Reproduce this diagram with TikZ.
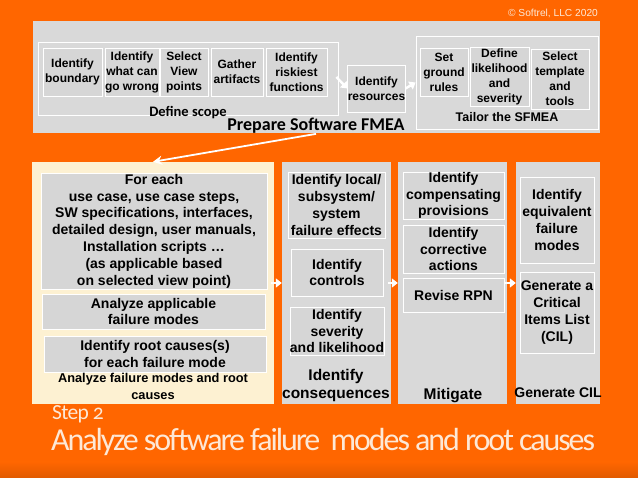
\documentclass[tikz,border=0pt]{standalone}
\usepackage{fontspec}
\setmainfont{Liberation Sans}
\newfontfamily\calfont{Carlito}
\newfontfamily\stepfont[Numbers=OldStyle,LetterSpace=-3.5]{Carlito}
\newfontfamily\titlefont[LetterSpace=-6.5]{Carlito}
\usetikzlibrary{arrows.meta}
\definecolor{bgorange}{RGB}{255,102,0}
\definecolor{panelgray}{RGB}{217,217,217}
\definecolor{boxgray}{RGB}{214,214,214}
\definecolor{creamy}{RGB}{253,241,210}
\definecolor{titlecream}{RGB}{253,232,214}
\newcommand{\fs}[2]{\bfseries\fontsize{#1}{#2}\selectfont}
\tikzset{
  pnl/.style={fill=panelgray, draw=none, inner sep=0pt},
  grp/.style={draw=white, line width=0.9pt, inner sep=0pt},
  bx/.style={draw=white, line width=0.7pt, fill=boxgray, align=center, inner sep=0pt, font=\fs{12}{15}},
  bxl/.style={bx, font=\fs{14}{16.8}},
  lbl/.style={align=center, inner sep=0pt},
  chev/.style={white, line width=2.4pt, -{Triangle[length=6pt,width=9pt]}},
  bigarr/.style={white, line width=1.8pt, -{Stealth[length=9pt,width=9pt]}}
}

\begin{document}
\begin{tikzpicture}[x=1pt,y=-1pt]
\fill[bgorange] (0,0) rectangle (638,478);
\shade[top color=bgorange, bottom color=bgorange!88!black] (0,462) rectangle (638,478);
\useasboundingbox (0,0) rectangle (638,478);
\node[lbl, text=titlecream, font=\fontsize{10.2}{12}\selectfont] (copy) at (553,13) {\textcopyright\ Softrel, LLC 2020};

% prepare software FMEA
\node[pnl, minimum width=567pt, minimum height=112pt] (prep) at (316.5,77) {};
\node[grp, minimum width=300pt, minimum height=73pt] (scope) at (188,78.5) {};
\node[grp, minimum width=182pt, minimum height=93pt] (tailor) at (507,82.5) {};
\node[bx, minimum width=59pt, minimum height=48pt] (bound) at (72.5,72) {Identify\\boundary};
\node[bx, minimum width=52pt, minimum height=48pt] (wrong) at (132,72) {Identify\\what can\\go wrong};
\node[bx, minimum width=48pt, minimum height=48pt] (view) at (184,72) {Select\\View\\points};
\node[bx, minimum width=52pt, minimum height=48pt] (gather) at (237,72) {Gather\\artifacts};
\node[bx, minimum width=61pt, minimum height=48pt] (risky) at (296.5,72) {Identify\\riskiest\\functions};
\node[bx, minimum width=51pt, minimum height=47pt] (res) at (376.5,88.5) {Identify\\resources};
\node[bx, minimum width=48pt, minimum height=48pt] (ground) at (444,72) {Set\\ground\\rules};
\node[bx, minimum width=59pt, minimum height=59pt] (likely) at (499.5,76.5) {Define\\likelihood\\and\\severity};
\node[bx, minimum width=58pt, minimum height=60pt] (tmpl) at (560,79) {Select\\template\\and\\tools};
\node[lbl, font=\calfont\fs{14.5}{16}] (scopelbl) at (188,113) {Define scope};
\node[lbl, font=\fs{12.5}{14}] (tailorlbl) at (507,117) {Tailor the SFMEA};
\node[lbl, font=\calfont\fs{18}{20}] (preplbl) at (316,126) {Prepare Software FMEA};
\draw[chev] (risky.east) ++(9,5) -- (res.west);
\draw[chev] (res.east) -- (tailor.west);

% analyze failure modes
\node[pnl, fill=creamy, minimum width=242pt, minimum height=242pt] (cream) at (153,283) {};
\node[pnl, minimum width=109pt, minimum height=242pt] (conseq) at (336.5,283) {};
\node[pnl, minimum width=109pt, minimum height=242pt] (mitig) at (452.5,283) {};
\node[pnl, minimum width=84pt, minimum height=242pt] (cil) at (558,283) {};
\node[bxl, minimum width=226pt, minimum height=116pt] (foreach) at (154,231) {For each\\use case, use case steps,\\SW specifications, interfaces,\\detailed design, user manuals,\\Installation scripts \dots\\(as applicable based\\on selected view point)};
\node[bxl, minimum width=223pt, minimum height=35pt] (anlz) at (153.5,311.5) {Analyze applicable\\failure modes};
\node[bxl, minimum width=222pt, minimum height=36pt] (root) at (155,354) {Identify root causes(s)\\for each failure mode};
\node[bxl, minimum width=97pt, minimum height=66pt] (effects) at (336.5,205) {Identify local/\\subsystem/\\system\\failure effects};
\node[bxl, minimum width=92pt, minimum height=47pt] (ctrl) at (337,272.5) {Identify\\controls};
\node[bxl, minimum width=92pt, minimum height=48pt] (sev) at (337,331) {Identify\\severity\\and likelihood};
\node[bxl, minimum width=101pt, minimum height=47pt] (comp) at (453.5,195.5) {Identify\\compensating\\provisions};
\node[bxl, minimum width=101pt, minimum height=48pt] (corr) at (453.5,249) {Identify\\corrective\\actions};
\node[bxl, minimum width=101pt, minimum height=34pt] (rpn) at (453.5,295) {Revise RPN};
\node[bxl, minimum width=74pt, minimum height=86pt] (equiv) at (557,220) {Identify\\equivalent\\failure\\modes};
\node[bxl, minimum width=74pt, minimum height=81pt] (crit) at (557,312.5) {Generate a\\Critical\\Items List\\(CIL)};
\node[lbl, font=\fs{12.8}{17}] (rootlbl) at (153,386) {Analyze failure modes and root\\causes};
\node[lbl, font=\fs{15.5}{18}] (conslbl) at (336,385) {Identify\\consequences};
\node[lbl, font=\fs{15.5}{18}] (mitlbl) at (453,396) {Mitigate};
\node[lbl, font=\fs{14}{16}] (cillbl) at (558,393) {Generate CIL};
\draw[chev] (cream.east) ++(-3,0) -- (conseq.west);
\draw[chev] (conseq.east) ++(-3,0) -- (mitig.west);
\draw[chev] (mitig.east) ++(-3,0) -- (cil.west);
\draw[bigarr] (preplbl.south) -- (cream.north);

% step title
\node[lbl, anchor=base west, text=titlecream, font=\stepfont\fontsize{21.5}{24}\selectfont] (step) at (52,420) {Step 2};
\node[lbl, anchor=base west, text=titlecream, font=\titlefont\fontsize{32}{36}\selectfont] (title) at (51,451) {Analyze software failure\ \ modes and root causes};
\end{tikzpicture}
\end{document}
